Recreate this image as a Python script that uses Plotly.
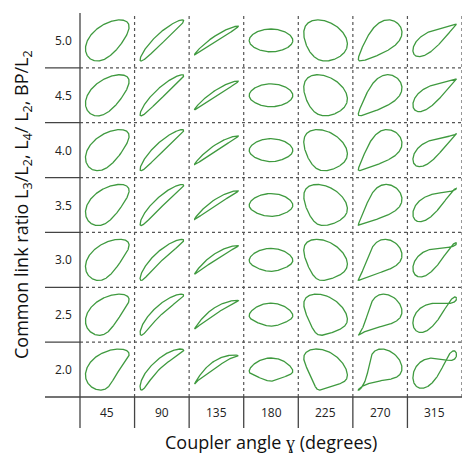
import numpy as np
import plotly.graph_objects as go

# coupler angle gamma (deg) per column, common link ratio per row (bottom to top)
angles = [45, 90, 135, 180, 225, 270, 315]
ratios = [2.0, 2.5, 3.0, 3.5, 4.0, 4.5, 5.0]
angle_labels = ["45", "90", "135", "180", "225", "270", "315"]
ratio_labels = ["2.0", "2.5", "3.0", "3.5", "4.0", "4.5", "5.0"]

LINE_COLOR = "#3f9a3f"
N = len(angles)


def coupler_curve(r, gamma_deg, n=400):
    """Coupler point path of a four-bar: crank 1, ground = coupler = rocker = BP = r"""
    th = np.linspace(0, 2 * np.pi, n)
    ax, ay = np.cos(th), np.sin(th)
    dx, dy = r - ax, -ay
    d = np.hypot(dx, dy)
    a = d / 2
    h = np.sqrt(np.clip(r**2 - a**2, 0, None))
    mx, my = ax + a * dx / d, ay + a * dy / d
    bx, by = mx - h * dy / d, my + h * dx / d
    ux, uy = (ax - bx) / r, (ay - by) / r
    g = -np.radians(gamma_deg)
    px = bx + r * (ux * np.cos(g) - uy * np.sin(g))
    py = by + r * (ux * np.sin(g) + uy * np.cos(g))
    return px, py


fig = go.Figure()
for j, r in enumerate(ratios):
    for i, gam in enumerate(angles):
        px, py = coupler_curve(r, gam)
        cx, cy = (px.max() + px.min()) / 2, (py.max() + py.min()) / 2
        sx, sy = px.max() - px.min(), py.max() - py.min()
        s = max(sx, sy)
        # stretch the short side part-way so each curve fills its cell
        sy2 = max(sy, 0.6 * s)
        sx2 = max(sx, 0.6 * s)
        fig.add_trace(go.Scatter(
            x=i + 0.5 + (px - cx) / sx2 * 0.8, y=j + 0.5 + (py - cy) / sy2 * 0.75,
            mode="lines", line=dict(color=LINE_COLOR, width=1.3),
            hoverinfo="skip", showlegend=False))

W, H = 458, 450
L, R, T, B = 72, 4, 5, 61
pw, ph = W - L - R, H - T - B


def px_x(p):  # pixel offset from plot left -> paper
    return p / pw


def px_y(p):  # pixel offset from plot bottom -> paper
    return p / ph


shapes = []
grid = dict(color="#555555", width=1.2, dash="dot")
solid = dict(color="#444444", width=1.3)
for k in range(1, N + 1):
    shapes.append(dict(type="line", xref="x", yref="y", x0=k, x1=k, y0=0, y1=N, line=grid))
    if k < N:
        shapes.append(dict(type="line", xref="x", yref="paper", x0=k, x1=k, y0=0, y1=px_y(-31), line=solid))
        shapes.append(dict(type="line", xref="x", yref="y", x0=0, x1=N, y0=k, y1=k, line=grid))
        shapes.append(dict(type="line", xref="paper", yref="y", x0=px_x(-35), x1=0, y0=k, y1=k, line=solid))
shapes.append(dict(type="line", xref="paper", yref="paper", x0=0, x1=0, y0=px_y(-31), y1=1, line=solid))
shapes.append(dict(type="line", xref="paper", yref="paper", x0=px_x(-35), x1=1, y0=0, y1=0, line=solid))

annotations = []
c = dict(showarrow=False, xanchor="center", yanchor="middle")
for i, lab in enumerate(angle_labels):
    annotations.append(dict(x=i + 0.5, y=px_y(-15), xref="x", yref="paper", text=lab,
                            font=dict(size=12, color="#222"), **c))
for j, lab in enumerate(ratio_labels):
    annotations.append(dict(x=px_x(-17), y=j + 0.5, xref="paper", yref="y", text=lab,
                            font=dict(size=12, color="#222"), **c))
annotations.append(dict(x=0.5, y=px_y(-45), xref="paper", yref="paper",
                        text="Coupler angle ɣ (degrees)",
                        font=dict(size=18, color="#111"), **c))
annotations.append(dict(x=px_x(-58), y=0.5, xref="paper", yref="paper", textangle=-90,
                        text="Common link ratio L<sub>3</sub>/L<sub>2</sub>, L<sub>4</sub>/ L<sub>2</sub>, BP/L<sub>2</sub>",
                        font=dict(size=18, color="#111"), **c))

fig.update_layout(
    width=W, height=H,
    margin=dict(l=L, r=R, t=T, b=B),
    paper_bgcolor="white", plot_bgcolor="white",
    font=dict(family="Open Sans"),
    xaxis=dict(range=[0, N], visible=False, fixedrange=True),
    yaxis=dict(range=[0, N], visible=False, fixedrange=True),
    shapes=shapes, annotations=annotations,
)

fig.write_html("out.html")
